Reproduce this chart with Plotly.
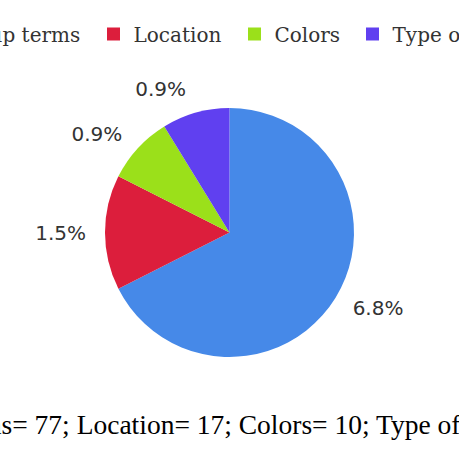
import plotly.graph_objects as go

categories = ["Group terms", "Location", "Colors", "Type of objects"]
counts = [77, 17, 10, 10]
slice_labels = ["6.8%", "1.5%", "0.9%", "0.9%"]
colors = ["#4689E8", "#DC1E3C", "#9BE01A", "#6040F0"]

caption = "; ".join(f"{c}= {v}" for c, v in zip(categories, counts))

W = H = 459
cx, cy, r = 229.5, 232.5, 124.5
r_text = r + 13


def dom(rad):
    return dict(x=[(cx - rad) / W, (cx + rad) / W],
                y=[1 - (cy + rad) / H, 1 - (cy - rad) / H])


fig = go.Figure()
# visible pie
fig.add_trace(go.Pie(
    labels=categories, values=counts,
    textinfo="none", sort=False, direction="clockwise", rotation=0,
    marker=dict(colors=colors, line=dict(width=0)),
    domain=dom(r), hoverinfo="none", showlegend=False,
))
# same pie, transparent, slightly larger: carries the outside labels
fig.add_trace(go.Pie(
    labels=categories, values=counts, text=slice_labels,
    textinfo="text", textposition="outside", sort=False,
    direction="clockwise", rotation=0,
    marker=dict(colors=["rgba(0,0,0,0)"] * len(counts), line=dict(width=0)),
    textfont=dict(family="DejaVu Sans", size=20, color="#333333"),
    domain=dom(r_text), hoverinfo="none", showlegend=False, automargin=False,
))

# legend entries (one legend per entry so they sit in one row past the edges)
legend_x = [-88, 93.5, 234.5, 352.5]
legend_names = ["legend", "legend2", "legend3", "legend4"]
for cat, col, lx, ln in zip(categories, colors, legend_x, legend_names):
    fig.add_trace(go.Scatter(
        x=[None], y=[None], mode="markers", name=cat,
        marker=dict(symbol="square", size=13, color=col),
        legend=ln, showlegend=True, hoverinfo="none",
    ))

leg_common = dict(
    orientation="h", xanchor="left", yanchor="middle", y=1 - 34 / H,
    font=dict(family="DejaVu Serif", size=20, color="#333333"),
    bgcolor="rgba(0,0,0,0)", borderwidth=0,
)
legends = {ln: dict(leg_common, x=lx / W) for ln, lx in zip(legend_names, legend_x)}

fig.update_layout(
    width=W, height=H,
    margin=dict(l=0, r=0, t=0, b=0, autoexpand=False),
    paper_bgcolor="white", plot_bgcolor="white",
    xaxis=dict(visible=False), yaxis=dict(visible=False),
    annotations=[dict(
        text=caption,
        x=-127.6 / W, xref="paper", xanchor="left",
        y=1 - 424 / H, yref="paper", yanchor="middle",
        showarrow=False,
        font=dict(family="Liberation Serif", size=27.5, color="#000000"),
    )],
    **legends,
)

fig.write_html("out.html", config={"displayModeBar": False},
               post_script="document.body.style.margin='0';")
